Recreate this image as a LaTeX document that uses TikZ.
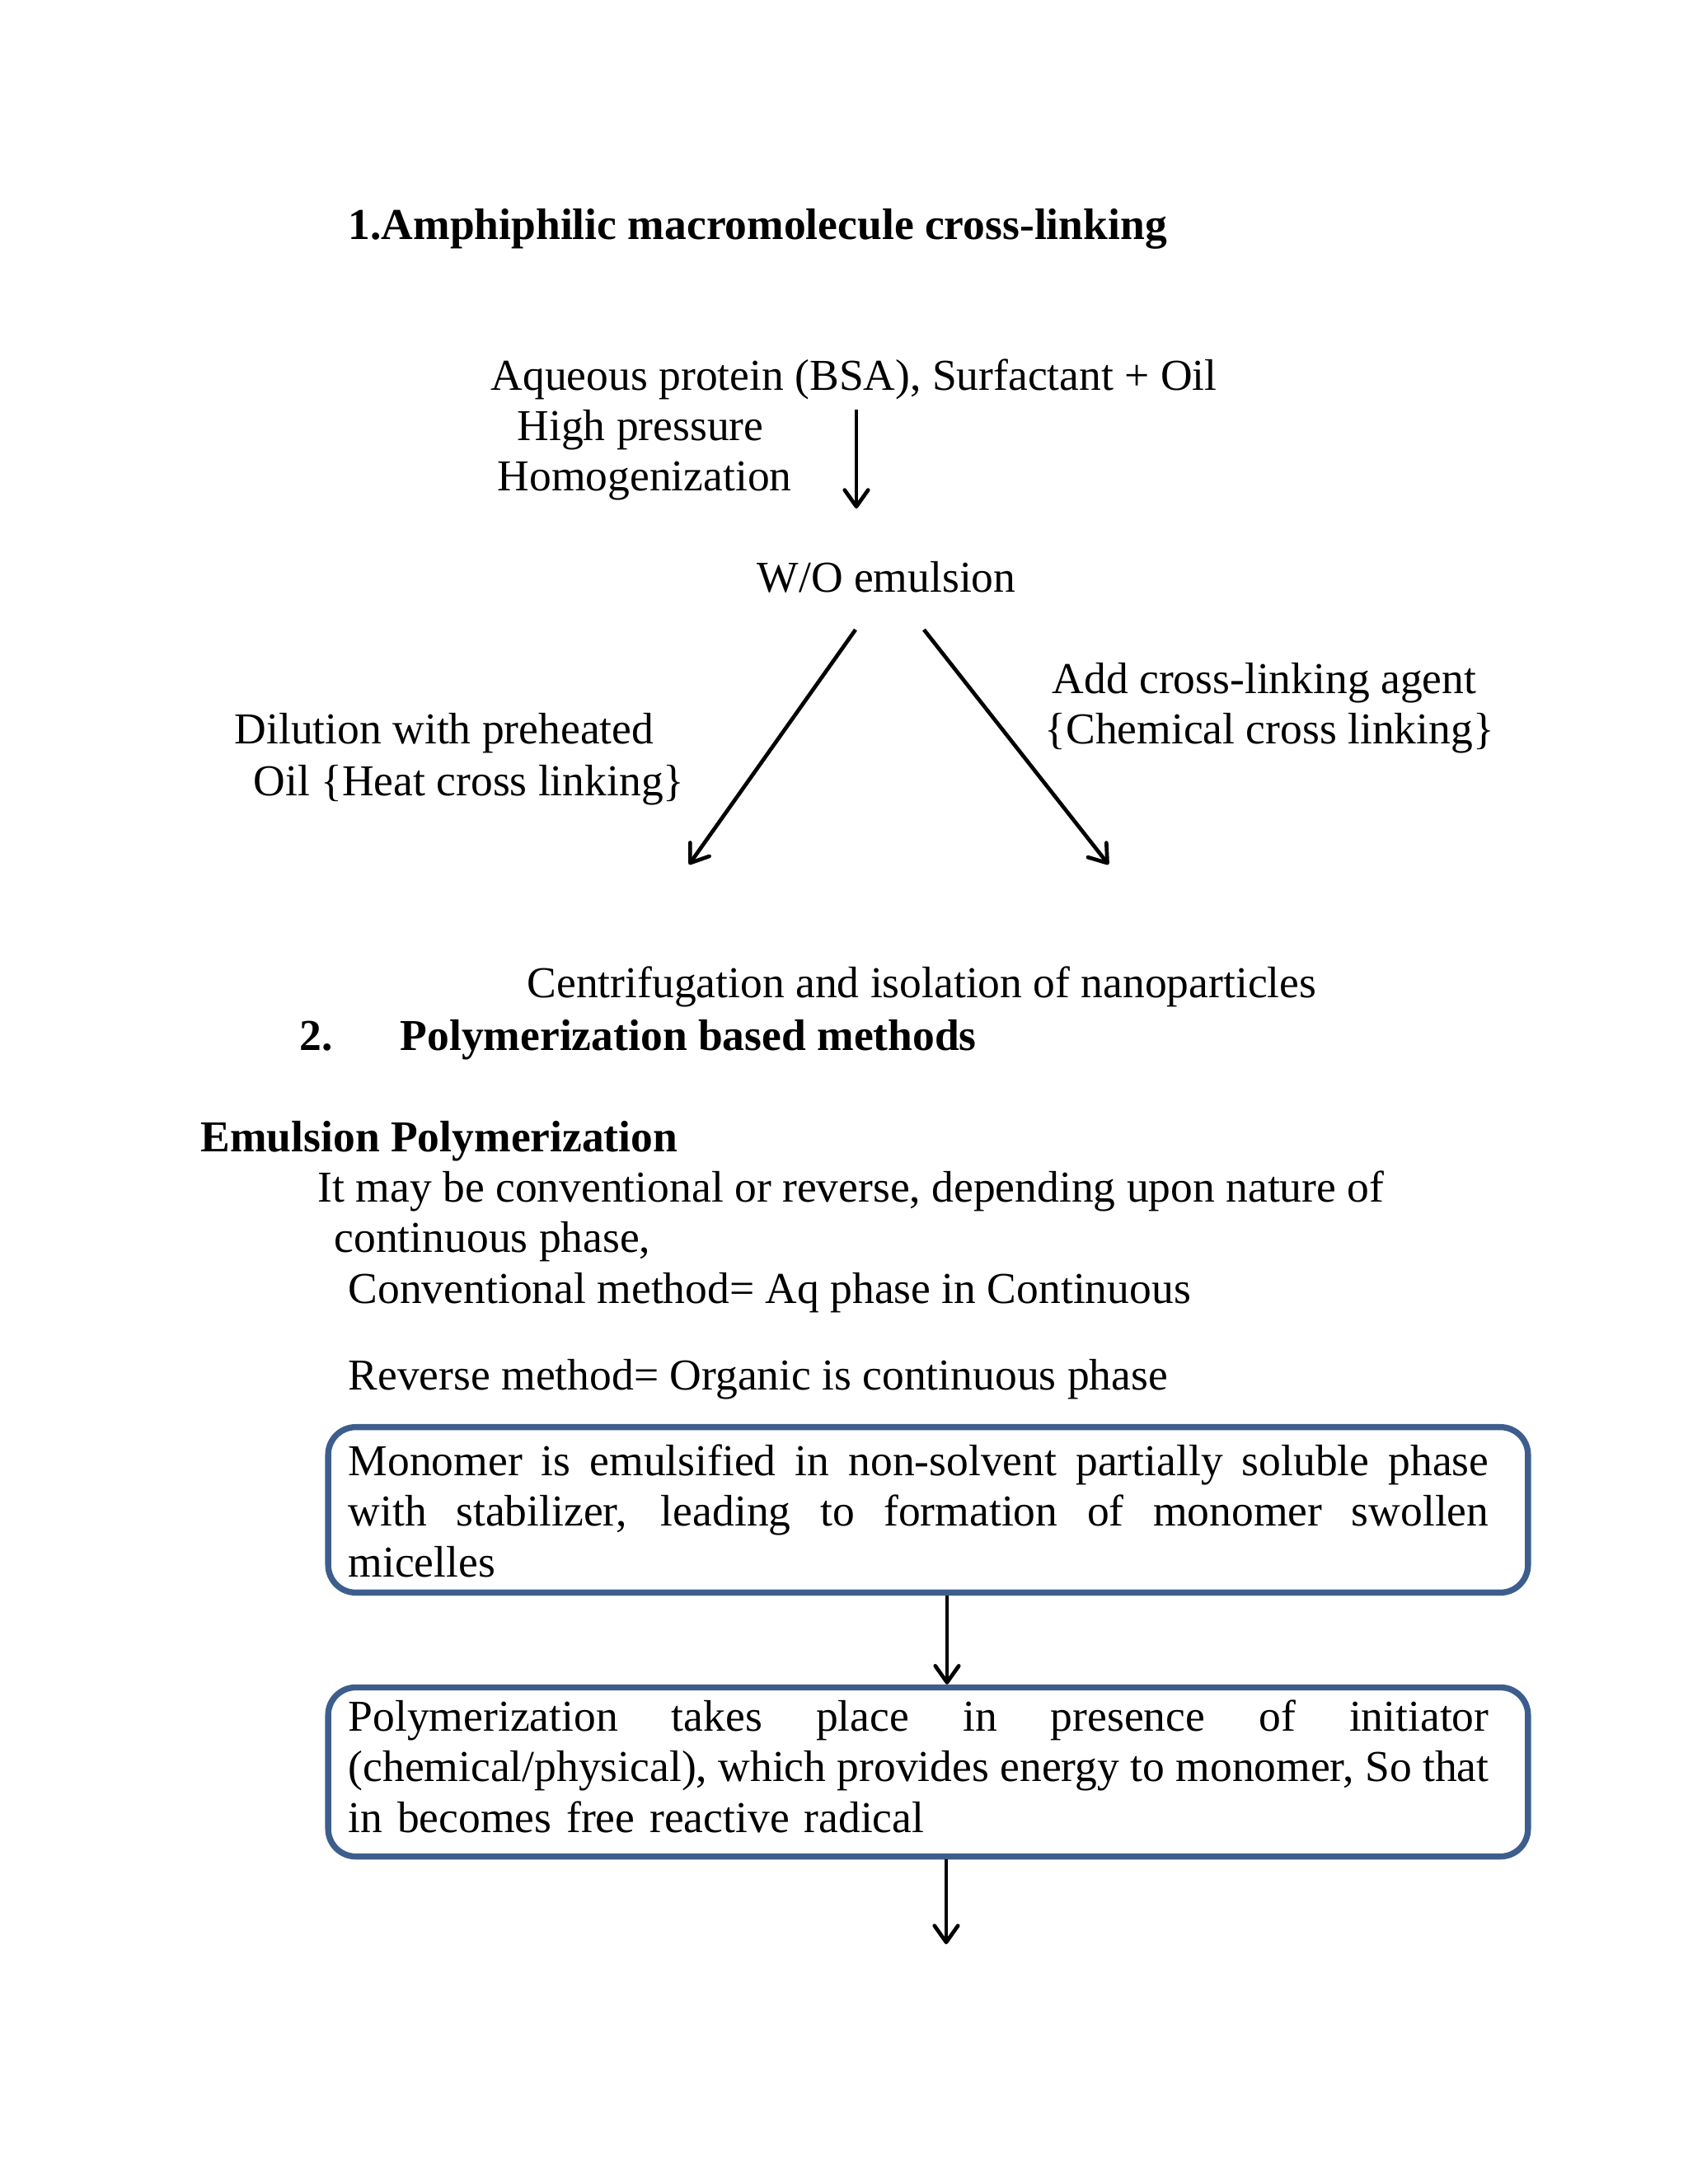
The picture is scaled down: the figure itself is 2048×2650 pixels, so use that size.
\documentclass[tikz,border=0pt]{standalone}
\usepackage{fontspec}
\setmainfont{Liberation Serif}
\usetikzlibrary{arrows.meta,calc}
\definecolor{boxblue}{HTML}{3D5E8D}
\newcommand\jline[1]{{\spaceskip=0pt\xspaceskip=0pt\makebox[413.5pt][s]{#1}}}
\begin{document}
\begin{tikzpicture}[x=0.29883pt,y=-0.29883pt,
  txt/.style={anchor=base west, inner sep=0pt, font=\fontsize{16}{18.4}\selectfont},
  hd/.style={anchor=base west, inner sep=0pt, font=\fontsize{16}{18.4}\selectfont\bfseries},
  para/.style={anchor=north west, inner sep=0pt, text width=413.5pt, align=left, font=\fontsize{16}{18.4}\selectfont},
  arr/.style={line width=1.4pt, -{Straight Barb[length=6pt,width=8.5pt,round]}},
  box/.style={draw=boxblue, line width=2.2pt, rounded corners=10pt, minimum width=435pt, inner sep=0pt}]
\useasboundingbox (0,0) rectangle (2048,2650);

% Section 1
\node[hd] (t1) at (422,290) {1.Amphiphilic macromolecule cross-linking};
\node[txt] (aq) at (595,473) {Aqueous protein (BSA), Surfactant + Oil};
\node[txt] (hp) at (627,534) {High pressure};
\node[txt] (hom) at (603,595) {Homogenization};
\node[txt] (wo) at (918,718) {W/O emulsion};
\node[txt] (add) at (1276,841) {Add cross-linking agent};
\node[txt] (chem) at (1267,902) {\{Chemical cross linking\}};
\node[txt] (dil) at (284,902) {Dilution with preheated};
\node[txt] (heat) at (307,965) {Oil \{Heat cross linking\}};
\node[txt] (cen) at (639,1210) {Centrifugation and isolation of nanoparticles};

\coordinate (a0s) at (1039,497);
\coordinate (a0e) at (1039,617);
\coordinate (aLs) at (1038,764);
\coordinate (aLe) at (836,1049);
\coordinate (aRs) at (1121,764);
\coordinate (aRe) at (1345,1049);
\draw[arr] (a0s) -- (a0e);
\draw[arr] (aLs) -- (aLe);
\draw[arr] (aRs) -- (aRe);

% Section 2
\node[hd] (t2) at (363,1274) {2.\hspace{24.5pt}Polymerization based methods};
\node[hd] (emp) at (243,1397) {Emulsion Polymerization};
\node[txt] (l1) at (385,1458) {It may be conventional or reverse, depending upon nature of};
\node[txt] (l2) at (405,1519) {continuous phase,};
\node[txt] (l3) at (422,1581) {Conventional method= Aq phase in Continuous};
\node[txt] (l4) at (422,1686) {Reverse method= Organic is continuous phase};

\node[box, minimum height=60pt] (b1) at (1126,1832) {};
\node[para] (p1) at (422,1752) {\jline{Monomer is emulsified in non-solvent partially soluble phase}\\
\jline{with stabilizer, leading to formation of monomer swollen}\\
micelles};
\node[box, minimum height=61.3pt] (b2) at (1126,2150) {};
\node[para] (p2) at (422,2062) {\jline{Polymerization takes place in presence of initiator}\\
\jline{(chemical/physical), which provides energy to monomer, So that}\\
in becomes free reactive radical};
\coordinate (endc) at (1148,2359);

\draw[arr] ($(b1.south)+(23,0)$) -- ($(b2.north)+(23,0)$);
\draw[arr] ($(b2.south)+(22,0)$) -- (endc);
\end{tikzpicture}
\end{document}
